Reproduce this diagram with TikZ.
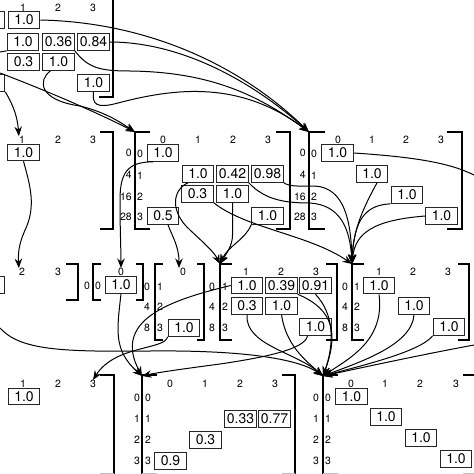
\documentclass[tikz,border=0pt]{standalone}
\usepackage{fontspec}
\setmainfont{TeX Gyre Heros}
\usetikzlibrary{arrows.meta}
\begin{document}
\begin{tikzpicture}[x=1pt,y=-1pt,
  mbox/.style={draw, line width=1.1pt, draw=black!85, minimum width=31.5pt, minimum height=16.5pt, inner sep=0pt, font=\fontsize{14}{14}\selectfont},
  idx/.style={inner sep=0pt, font=\fontsize{10.5}{10.5}\selectfont},
  oidx/.style={idx, anchor=east},
  brk/.style={line width=1.9pt},
  lin/.style={line width=1pt},
  con/.style={line width=1pt, -{Stealth[length=9.5pt,width=7.5pt]}},
  ghost/.style={line width=1.4pt, gray!50}]
\useasboundingbox (0,0) rectangle (474,474);
\clip (0,0) rectangle (474,474);

% ---------- Matrix A (top left, partial)
\node[idx] (Ah1) at (23,8) {1};
\node[idx] (Ah2) at (58,8) {2};
\node[idx] (Ah3) at (93,8) {3};
\node[mbox] (PA0) at (-11,20) {};
\node[mbox] (PA3) at (-11,83) {};
\node[mbox] (A00) at (24,20) {1.0};
\node[mbox] (A11) at (23,42) {1.0};
\node[mbox] (A12) at (58.5,42) {0.36};
\node[mbox] (A13) at (93.5,42) {0.84};
\node[mbox] (A21) at (23.5,62) {0.3};
\node[mbox] (A22) at (58.5,62) {1.0};
\node[mbox] (A33) at (93.5,83) {1.0};
\draw[brk] (113,-5) -- (113,97) -- (99,97);

% ---------- Matrix B (row 2 left, partial)
\node[idx] (Bh1) at (22,140) {1};
\node[idx] (Bh2) at (58,140) {2};
\node[idx] (Bh3) at (93,140) {3};
\node[mbox] (B11) at (23.5,152.5) {1.0};
\draw[brk] (100,132) -- (113,132) -- (113,229) -- (100,229);

% ---------- Matrix C
\draw[brk] (150,132) -- (135,132) -- (135,229) -- (150,229);
\draw[brk] (276,132) -- (290,132) -- (290,229) -- (276,229);
\coordinate (Ctl) at (135,132);
\node[oidx] (Co0) at (132,153) {0};
\node[oidx] (Co1) at (132,175) {4};
\node[oidx] (Co2) at (132,197) {16};
\node[oidx] (Co3) at (132,217) {28};
\node[idx] (Ci0) at (140,154) {0};
\node[idx] (Ci1) at (140,176) {1};
\node[idx] (Ci2) at (140,197) {2};
\node[idx] (Ci3) at (140,217) {3};
\node[idx] (Ch0) at (163,140) {0};
\node[idx] (Ch1) at (198,140) {1};
\node[idx] (Ch2) at (233,140) {2};
\node[idx] (Ch3) at (268,140) {3};
\node[mbox] (C00) at (163,153) {1.0};
\node[mbox] (C11) at (198,174) {1.0};
\node[mbox] (C12) at (232.5,174) {0.42};
\node[mbox] (C13) at (267.5,174) {0.98};
\node[mbox] (C21) at (197.5,194) {0.3};
\node[mbox] (C22) at (232.5,194) {1.0};
\node[mbox] (C30) at (163,216) {0.5};
\node[mbox] (C33) at (267.5,216) {1.0};

% ---------- Matrix D
\draw[brk] (325,132) -- (309,132) -- (309,229) -- (325,229);
\draw[brk] (447,132) -- (462,132) -- (462,229) -- (447,229);
\coordinate (Dtl) at (309,132);
\node[oidx] (Do0) at (306,153) {0};
\node[oidx] (Do1) at (306,175) {4};
\node[oidx] (Do2) at (306,197) {16};
\node[oidx] (Do3) at (306,217) {28};
\node[idx] (Di0) at (314,154) {0};
\node[idx] (Di1) at (314,176) {1};
\node[idx] (Di2) at (314,197) {2};
\node[idx] (Di3) at (314,217) {3};
\node[idx] (Dh0) at (338,140) {0};
\node[idx] (Dh1) at (372,140) {1};
\node[idx] (Dh2) at (406,140) {2};
\node[idx] (Dh3) at (441,140) {3};
\node[mbox] (D00) at (337.5,153) {1.0};
\node[mbox] (D11) at (372,174) {1.0};
\node[mbox] (D22) at (407,195) {1.0};
\node[mbox] (D33) at (441.5,216) {1.0};

% ---------- Matrix P (row 3 left, partial)
\node[idx] (Ph2) at (22,272) {2};
\node[idx] (Ph3) at (58,272) {3};
\node[mbox] (PP1) at (-11,285) {};
\draw[brk] (66,264) -- (78,264) -- (78,300) -- (66,300);

% ---------- Matrix E
\draw[brk] (101,264) -- (93,264) -- (93,300) -- (101,300);
\draw[brk] (136,264) -- (143,264) -- (143,300) -- (136,300);
\node[idx] (Eo0) at (87,286) {0};
\node[idx] (Ei0) at (98,286) {0};
\node[idx] (Eh0) at (121,272) {0};
\node[mbox] (E00) at (121,285) {1.0};

% ---------- Matrix F
\draw[brk] (163,264) -- (155,264) -- (155,340) -- (163,340);
\draw[brk] (197,264) -- (204,264) -- (204,340) -- (197,340);
\node[idx] (Fo1) at (147,287) {0};
\node[idx] (Fo2) at (147,307) {4};
\node[idx] (Fo3) at (147,328) {8};
\node[idx] (Fi1) at (160,287) {1};
\node[idx] (Fi2) at (160,307) {2};
\node[idx] (Fi3) at (160,328) {3};
\node[idx] (Fh0) at (183,272) {0};
\node[mbox] (F30) at (184,328) {1.0};

% ---------- Matrix G
\draw[brk] (232,264) -- (220,264) -- (220,340) -- (232,340);
\draw[brk] (326,264) -- (337,264) -- (337,340) -- (326,340);
\coordinate (Gtl) at (220,264);
\node[idx] (Go1) at (212,287) {0};
\node[idx] (Go2) at (212,307) {4};
\node[idx] (Go3) at (212,328) {8};
\node[idx] (Gi1) at (225,287) {1};
\node[idx] (Gi2) at (225,307) {2};
\node[idx] (Gi3) at (225,328) {3};
\node[idx] (Gh1) at (246,272) {1};
\node[idx] (Gh2) at (281,272) {2};
\node[idx] (Gh3) at (316,272) {3};
\node[mbox] (G11) at (247,285.5) {1.0};
\node[mbox] (G12) at (281.5,285.5) {0.39};
\node[mbox] (G13) at (315.5,285.5) {0.91};
\node[mbox] (G21) at (247,306) {0.3};
\node[mbox] (G22) at (281.5,306) {1.0};
\node[mbox] (G33) at (315.5,327) {1.0};

% ---------- Matrix H
\draw[brk] (364,264) -- (352,264) -- (352,340) -- (364,340);
\draw[brk] (458,264) -- (469,264) -- (469,340) -- (458,340);
\coordinate (Htl) at (352,264);
\node[idx] (Ho1) at (345,287) {0};
\node[idx] (Ho2) at (345,307) {4};
\node[idx] (Ho3) at (345,328) {8};
\node[idx] (Hi1) at (357,287) {1};
\node[idx] (Hi2) at (357,307) {2};
\node[idx] (Hi3) at (357,328) {3};
\node[idx] (Hh1) at (379,272) {1};
\node[idx] (Hh2) at (413,272) {2};
\node[idx] (Hh3) at (448,272) {3};
\node[mbox] (H11) at (379,285.5) {1.0};
\node[mbox] (H22) at (414,306) {1.0};
\node[mbox] (H33) at (449,327) {1.0};

% ---------- Matrix I (bottom left, partial)
\node[idx] (Ih1) at (23,384) {1};
\node[idx] (Ih2) at (58,384) {2};
\node[idx] (Ih3) at (93,384) {3};
\node[mbox] (I00) at (24,396.5) {1.0};
\draw[brk] (100,375) -- (114,375) -- (114,480);

% ---------- Matrix J
\draw[brk] (157,375) -- (142,375) -- (142,480);
\draw[brk] (282,375) -- (295,375) -- (295,480);
\coordinate (Jtl) at (142,376);
\node[idx] (Jo0) at (137,398) {0};
\node[idx] (Jo1) at (137,419) {1};
\node[idx] (Jo2) at (137,440) {2};
\node[idx] (Jo3) at (137,461) {3};
\node[idx] (Ji0) at (148,398) {0};
\node[idx] (Ji1) at (148,419) {1};
\node[idx] (Ji2) at (148,440) {2};
\node[idx] (Ji3) at (148,461) {3};
\node[idx] (Jh0) at (170,384) {0};
\node[idx] (Jh1) at (205,384) {1};
\node[idx] (Jh2) at (240,384) {2};
\node[idx] (Jh3) at (275,384) {3};
\node[mbox] (J12) at (240.5,419) {0.33};
\node[mbox] (J13) at (274.5,419) {0.77};
\node[mbox] (J21) at (205.5,440) {0.3};
\node[mbox] (J30) at (170.5,461) {0.9};

% ---------- Matrix K
\draw[brk] (338,375) -- (323,375) -- (323,480);
\draw[brk] (463,375) -- (477,375) -- (477,480);
\coordinate (Ktl) at (323,376);
\node[idx] (Ko0) at (316,398) {0};
\node[idx] (Ko1) at (316,419) {1};
\node[idx] (Ko2) at (316,440) {2};
\node[idx] (Ko3) at (316,461) {3};
\node[idx] (Ki0) at (328,398) {0};
\node[idx] (Ki1) at (328,419) {1};
\node[idx] (Ki2) at (328,440) {2};
\node[idx] (Ki3) at (328,461) {3};
\node[idx] (Kh0) at (351,384) {0};
\node[idx] (Kh1) at (385,384) {1};
\node[idx] (Kh2) at (420,384) {2};
\node[idx] (Kh3) at (456,384) {3};
\node[mbox] (K00) at (351.5,396.5) {1.0};
\node[mbox] (K11) at (386,417) {1.0};
\node[mbox] (K22) at (421,438) {1.0};
\node[mbox] (K33) at (456,459) {1.0};

% faint bottom ticks
\draw[ghost] (100,473.5) -- (114,473.5);
\draw[ghost] (142,473.5) -- (157,473.5);
\draw[ghost] (282,473.5) -- (295,473.5);
\draw[ghost] (323,473.5) -- (338,473.5);
\draw[ghost] (463,473.5) -- (474,473.5);

% ---------- connectors: top
\coordinate (Lout1) at (0,52);
\coordinate (Lin1) at (0,73);
\draw[lin] (A11.south west) -- (Lout1);
\draw[con] (A00.east) .. controls (140,22) and (235,60) .. (Dtl);
\draw[con] (A13.east) .. controls (175,42) and (245,75) .. (Dtl);
\draw[con] (A12.south east) .. controls (88,68) and (100,71) .. (130,71) .. controls (215,72) and (262,98) .. (Dtl);
\draw[con] (A33.south) .. controls (92,104) and (96,109) .. (118,103) .. controls (175,88) and (240,80) .. (Dtl);
\draw[con] (Lin1) .. controls (50,92) and (100,114) .. (Ctl);
\draw[con] ([xshift=-8pt]A22.south) .. controls (38,80) and (38,100) .. (80,106) .. controls (105,112) and (120,122) .. (Ctl);
\draw[con] (PA3.south east) .. controls (10,100) and (17,112) .. (Bh1.north west);

% ---------- connectors: row 2 -> row 3
\draw[con] (B11.south) .. controls (30,185) and (36,205) .. (26,228) .. controls (19,243) and (18,252) .. (Ph2.north west);
\draw[con] ([xshift=-10pt]C00.south) .. controls (128,162) and (120,172) .. (120,200) .. controls (120,230) and (121,250) .. (Eh0.north);
\draw[con] ([xshift=5pt]C30.south) .. controls (172,236) and (179,246) .. ([xshift=-4pt]Fh0.north);
\draw[con] ([xshift=-10pt]C11.south) .. controls (172,190) and (170,212) .. (190,230) .. controls (205,244) and (214,252) .. (Gtl);
\draw[con] (C22.south) -- (232.5,235) .. controls (232.5,246) and (226,254) .. (Gtl);
\draw[con] (C33.south west) .. controls (245,240) and (228,246) .. (Gtl);
\draw[con] (C21.south east) .. controls (245,228) and (310,235) .. (Htl);
\draw[con] (C12.south east) .. controls (265,200) and (285,203) .. (310,203) .. controls (340,205) and (350,228) .. (Htl);
\draw[con] (C13.south east) .. controls (290,187) and (300,186) .. (315,186) .. controls (345,188) and (351,222) .. (Htl);
\draw[con] ([xshift=5pt]D11.south) .. controls (365,205) and (353,228) .. (Htl);
\draw[con] (D22.south west) .. controls (365,205) and (354,220) .. (Htl);
\draw[con] (D33.west) .. controls (375,220) and (355,232) .. (Htl);
\coordinate (Rout1) at (474,175);
\draw[lin] (D00.east) .. controls (415,157) and (450,163) .. (Rout1);

% ---------- connectors: row 3 -> row 4
\draw[con] (E00.south) .. controls (117,330) and (113,350) .. (Jtl);
\draw[con] (G11.west) .. controls (170,300) and (112,320) .. (Jtl);
\draw[con] (F30.south west) .. controls (165,350) and (115,345) .. (Ih3.north);
\draw[con] ([xshift=-8pt]G33.south) .. controls (305,350) and (260,358) .. (220,364) .. controls (190,368) and (160,372) .. (Jtl);
\coordinate (Lin2) at (0,328);
\draw[con] (Lin2) .. controls (20,350) and (60,352) .. (150,351) .. controls (250,350) and (300,360) .. (Ktl);
\draw[con] (G21.south) .. controls (245,345) and (295,352) .. (Ktl);
\draw[con] (G22.south) .. controls (286,345) and (305,360) .. (Ktl);
\draw[con] (G12.south east) .. controls (335,310) and (338,335) .. (Ktl);
\draw[con] (G13.south) .. controls (335,315) and (334,345) .. (Ktl);
\draw[con] (H11.south) .. controls (385,340) and (350,358) .. (Ktl);
\draw[con] (H22.south) .. controls (412,345) and (360,362) .. (Ktl);
\draw[con] (H33.south west) .. controls (420,352) and (360,366) .. (Ktl);
\coordinate (Rin2) at (474,345);
\draw[con] (Rin2) .. controls (420,355) and (360,368) .. (Ktl);
\end{tikzpicture}
\end{document}
